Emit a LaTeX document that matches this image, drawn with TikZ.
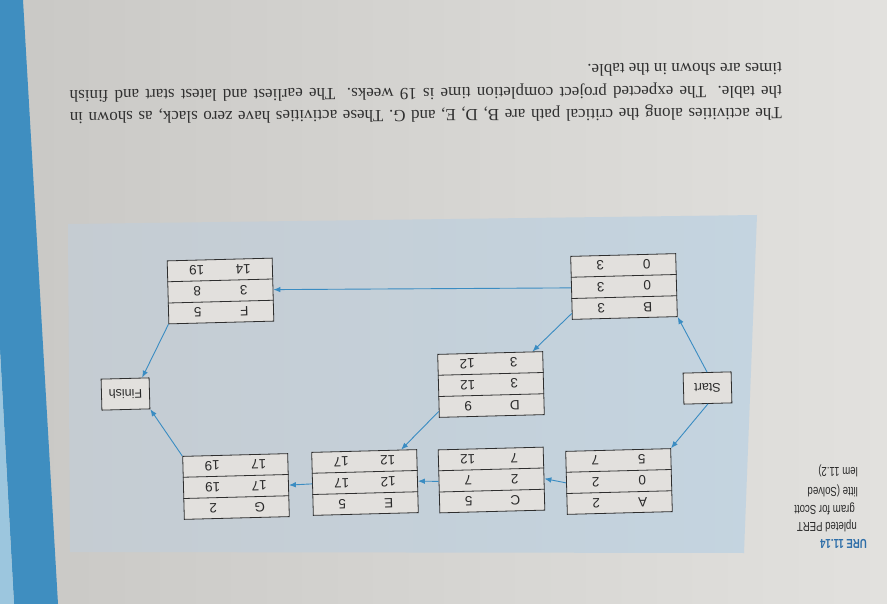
\documentclass[tikz,border=0pt]{standalone}
\usepackage{fontspec}
\setmainfont{Liberation Serif}
\setsansfont{Liberation Sans}
\usetikzlibrary{arrows.meta,calc}
\definecolor{pageL}{HTML}{C9C8C5}
\definecolor{pageR}{HTML}{E2E1DE}
\definecolor{panelL}{HTML}{C5CCD2}
\definecolor{panelR}{HTML}{C4D4E0}
\definecolor{stripblue}{HTML}{3F8EC0}
\definecolor{striplight}{HTML}{9CC6DE}
\definecolor{boxfill}{HTML}{E2E0DD}
\definecolor{boxline}{HTML}{2E2E2E}
\definecolor{inkcol}{HTML}{2B2B2B}
\definecolor{paracol}{HTML}{303030}
\definecolor{arrowcol}{HTML}{3A8CC2}
\definecolor{capblue}{HTML}{2E6EA8}
\tikzset{
  pbox/.style={draw=boxline, fill=boxfill, line width=0.8pt, minimum width=105pt, minimum height=63pt, inner sep=0pt, rotate=181.5},
  sbox/.style={draw=boxline, fill=boxfill, line width=0.8pt, minimum width=48pt, minimum height=31pt, inner sep=0pt, rotate=181.5, text=inkcol, font=\sffamily\fontsize{12.5}{12.5}\selectfont},
  rowline/.style={draw=boxline, line width=0.8pt},
  cell/.style={font=\sffamily\fontsize{13.5}{13.5}\selectfont, text=inkcol, rotate=181.5, inner sep=0pt, text height=9.7pt, text depth=0pt},
  link/.style={draw=arrowcol, line width=0.9pt, -{Latex[length=7pt,width=5.5pt]}},
  para/.style={font=\fontsize{17}{17}\selectfont, text=paracol, rotate=180.35, inner sep=0pt},
  captext/.style={font=\sffamily\fontsize{13}{13}\selectfont, text=inkcol, rotate=180, inner sep=0pt},
  capfirst/.style={font=\sffamily\bfseries\fontsize{13}{13}\selectfont, text=capblue, rotate=180, inner sep=0pt}
}
\newcommand\pertbox[9]{%
  \node[pbox] (#1) at (#2,#3) {};
  \draw[rowline] ($(#1.north west)!1/3!(#1.south west)$) -- ($(#1.north east)!1/3!(#1.south east)$);
  \draw[rowline] ($(#1.north west)!2/3!(#1.south west)$) -- ($(#1.north east)!2/3!(#1.south east)$);
  \coordinate (#1-w1) at ($(#1.north west)!1/6!(#1.south west)$);
  \coordinate (#1-e1) at ($(#1.north east)!1/6!(#1.south east)$);
  \coordinate (#1-w2) at (#1.west);
  \coordinate (#1-e2) at (#1.east);
  \coordinate (#1-w3) at ($(#1.north west)!5/6!(#1.south west)$);
  \coordinate (#1-e3) at ($(#1.north east)!5/6!(#1.south east)$);
  \node[cell] (#1-a) at ($(#1-w1)!0.28!(#1-e1)$) {#4};
  \node[cell] (#1-b) at ($(#1-w1)!0.72!(#1-e1)$) {#5};
  \node[cell] (#1-c) at ($(#1-w2)!0.28!(#1-e2)$) {#6};
  \node[cell] (#1-d) at ($(#1-w2)!0.72!(#1-e2)$) {#7};
  \node[cell] (#1-e) at ($(#1-w3)!0.28!(#1-e3)$) {#8};
  \node[cell] (#1-f) at ($(#1-w3)!0.72!(#1-e3)$) {#9};
}
\newcommand\capline[1]{\scalebox{0.74}[1]{#1}}
\begin{document}
\begin{tikzpicture}[x=1pt,y=-1pt]
\useasboundingbox (0,0) rectangle (887,604);
% page
\shade[left color=pageL, right color=pageR] (0,0) rectangle (887,604);
% blue strip at the edge
\fill[stripblue] (0,0) -- (23,0) -- (58,604) -- (14,604) -- (0,350) -- cycle;
\fill[striplight] (0,350) -- (14,604) -- (0,604) -- cycle;
% figure panel
\shade[left color=panelL, right color=panelR] (68,224) -- (757,215) -- (744,553) -- (70,552) -- cycle;

% paragraph (upside down)
\node[para, anchor=base west] (t1) at (782,108) {\makebox[712pt][s]{The activities along the critical path are B, D, E, and G. These activities have zero slack, as shown in}};
\node[para, anchor=base west] (t2) at (782,86) {\makebox[712pt][s]{the table. The expected project completion time is 19 weeks. The earliest and latest start and finish}};
\node[para, anchor=base west] (t3) at (782,63) {times are shown in the table.};

% caption fragment (upside down)
\node[capfirst, anchor=base west] (c1) at (867,539) {\capline{URE 11.14}};
\node[captext, anchor=base west] (c2) at (857,522) {\capline{npleted PERT}};
\node[captext, anchor=base west] (c3) at (855,505) {\capline{gram for Scott}};
\node[captext, anchor=base west] (c4) at (858,487) {\capline{litte (Solved}};
\node[captext, anchor=base west] (c5) at (858,467) {\capline{lem 11.2)}};

% activity boxes
\pertbox{B}{624}{286.5}{B}{3}{0}{3}{0}{3}
\pertbox{F}{220.5}{291}{F}{5}{3}{8}{14}{19}
\pertbox{D}{491}{384.5}{D}{9}{3}{12}{3}{12}
\pertbox{A}{619}{481.5}{A}{2}{0}{2}{5}{7}
\pertbox{C}{491.5}{480}{C}{5}{2}{7}{7}{12}
\pertbox{E}{365}{482.5}{E}{5}{12}{17}{12}{17}
\pertbox{G}{236}{486.5}{G}{2}{17}{19}{17}{19}
\node[sbox] (Start) at (707.5,388) {Start};
\node[sbox] (Finish) at (125.5,394) {Finish};

% connectors
\draw[link] (Start.north) -- (A.south west);
\draw[link] (Start.south) -- (B.north west);
\draw[link] ($(B.north east)!0.1!(B.south east)$) -- ($(D.south west)!0.1!(D.south east)$);
\draw[link] (B.east) -- (F.west);
\draw[link] (A.east) -- (C.west);
\draw[link] (C.east) -- (E.west);
\draw[link] ($(D.north east)!0.1!(D.south east)$) -- ($(E.south west)!0.15!(E.south east)$);
\draw[link] (E.east) -- (G.west);
\draw[link] (G.south east) -- (Finish.north west);
\draw[link] (F.north east) -- ($(Finish.south west)!0.15!(Finish.south east)$);
\end{tikzpicture}
\end{document}
